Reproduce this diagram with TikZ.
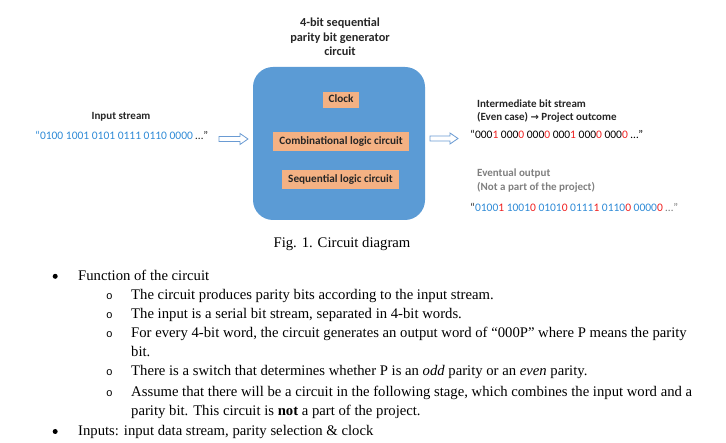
\documentclass[tikz,border=0pt]{standalone}
\usepackage{fontspec}
\setmainfont{Liberation Serif}
\newfontfamily\calfont{Carlito}
\newfontfamily\symfont{DejaVu Sans}
\newfontfamily\monofont{Liberation Mono}
\definecolor{boxblue}{HTML}{5B9BD5}
\definecolor{boxorange}{HTML}{F4B183}
\definecolor{streamblue}{HTML}{2E8AD6}
\definecolor{bitred}{HTML}{F01E1E}
\definecolor{labelgray}{HTML}{7F7F7F}
\definecolor{labeldark}{HTML}{262626}
\definecolor{arrowblue}{HTML}{6A9BD3}
\begin{document}
\begin{tikzpicture}[x=1pt,y=-1pt,
  lbl/.style={inner sep=0pt, anchor=base west, text=labeldark, font=\calfont\bfseries\fontsize{11}{13}\selectfont},
  graylbl/.style={lbl, text=labelgray},
  seqtext/.style={inner sep=0pt, anchor=base west, font=\calfont\fontsize{11.5}{13}\selectfont},
  titletext/.style={inner sep=0pt, anchor=base, text=labeldark, font=\calfont\bfseries\fontsize{12.3}{15}\selectfont},
  obox/.style={fill=boxorange, inner sep=0pt, text=labeldark, text height=8pt, text depth=2.5pt, font=\calfont\bfseries\fontsize{11.2}{13}\selectfont},
  hollowarrow/.style={draw=arrowblue, fill=white, line width=0.8pt, line join=miter},
  body/.style={inner sep=0pt, anchor=base west, font=\fontsize{14.7}{19}\selectfont},
  bulletdot/.style={circle, fill=black, inner sep=0pt, minimum size=5pt},
  subbullet/.style={inner sep=0pt, anchor=base west, font=\monofont\fontsize{11}{13}\selectfont}
]
\useasboundingbox (0,0) rectangle (726,443);

% title
\node[titletext] (t1) at (340,27) {4-bit sequential};
\node[titletext] (t2) at (340,41.5) {parity bit generator};
\node[titletext] (t3) at (340,56) {circuit};

% main block
\node[fill=boxblue, rounded corners=20pt, minimum width=172pt, minimum height=153pt, inner sep=0pt] (circ) at (339,143.5) {};
\node[obox, minimum width=36pt, minimum height=16pt] (clock) at (341,100) {Clock};
\node[obox, minimum width=136pt, minimum height=19pt] (comb) at (341,141.5) {Combinational logic circuit};
\node[obox, minimum width=117pt, minimum height=19pt] (seq) at (340.5,179.5) {Sequential logic circuit};

% input side
\node[lbl, anchor=base] (inlbl) at (121,120) {Input stream};
\node[seqtext, text=streamblue] (inseq) at (35,140) {“0100 1001 0101 0111 0110 0000 \textcolor{labeldark}{…”}};
\coordinate (ina) at (219,139);
\draw[hollowarrow] (ina) ++(0,-2.5) -- ++(21,0) -- ++(0,-3) -- ++(8,5.5) -- ++(-8,5.5) -- ++(0,-3) -- ++(-21,0) -- cycle;

% output side
\coordinate (outa) at (430,138.5);
\draw[hollowarrow] (outa) ++(0,-2.5) -- ++(20,0) -- ++(0,-3) -- ++(8,5.5) -- ++(-8,5.5) -- ++(0,-3) -- ++(-20,0) -- cycle;
\node[lbl] (midlbl1) at (477,107.5) {Intermediate bit stream};
\node[lbl] (midlbl2) at (477,121) {(Even case) {\symfont\bfseries\fontsize{10}{11}\selectfont →} Project outcome};
\node[seqtext, text=black] (midseq) at (470,139) {“000\textcolor{bitred}{1} 000\textcolor{bitred}{0} 000\textcolor{bitred}{0} 000\textcolor{bitred}{1} 000\textcolor{bitred}{0} 000\textcolor{bitred}{0} …”};

\node[graylbl] (evlbl1) at (477,177) {Eventual output};
\node[graylbl] (evlbl2) at (477,191) {(Not a part of the project)};
\node[seqtext, text=streamblue] (evseq) at (470,212) {\textcolor{labeldark}{“}0100\textcolor{bitred}{1} 1001\textcolor{bitred}{0} 0101\textcolor{bitred}{0} 0111\textcolor{bitred}{1} 0110\textcolor{bitred}{0} 0000\textcolor{bitred}{0} \textcolor{labelgray}{…”}};

% caption
\node[body, anchor=base] (cap) at (342,248) {Fig. 1. Circuit diagram};

% bullet list
\node[bulletdot] (b1) at (55.2,276.3) {};
\node[body] (l1) at (78,281) {Function of the circuit};
\node[subbullet] (s1) at (106,300) {o};
\node[body] (l2) at (131,300) {The circuit produces parity bits according to the input stream.};
\node[subbullet] (s2) at (106,319) {o};
\node[body] (l3) at (131,319) {The input is a serial bit stream, separated in 4-bit words.};
\node[subbullet] (s3) at (106,338) {o};
\node[body] (l4) at (131,338) {For every 4-bit word, the circuit generates an output word of “000P” where P means the parity};
\node[body] (l5) at (131,356.5) {bit.};
\node[subbullet] (s4) at (106,375.5) {o};
\node[body] (l6) at (131,375.5) {There is a switch that determines whether P is an \textit{odd} parity or an \textit{even} parity.};
\node[subbullet] (s5) at (106,397) {o};
\node[body] (l7) at (131,397) {Assume that there will be a circuit in the following stage, which combines the input word and a};
\node[body] (l8) at (131,415.5) {parity bit. This circuit is \textbf{not} a part of the project.};
\node[bulletdot] (b2) at (55.2,431.5) {};
\node[body] (l9) at (78,436) {Inputs: input data stream, parity selection \& clock};
\end{tikzpicture}
\end{document}
